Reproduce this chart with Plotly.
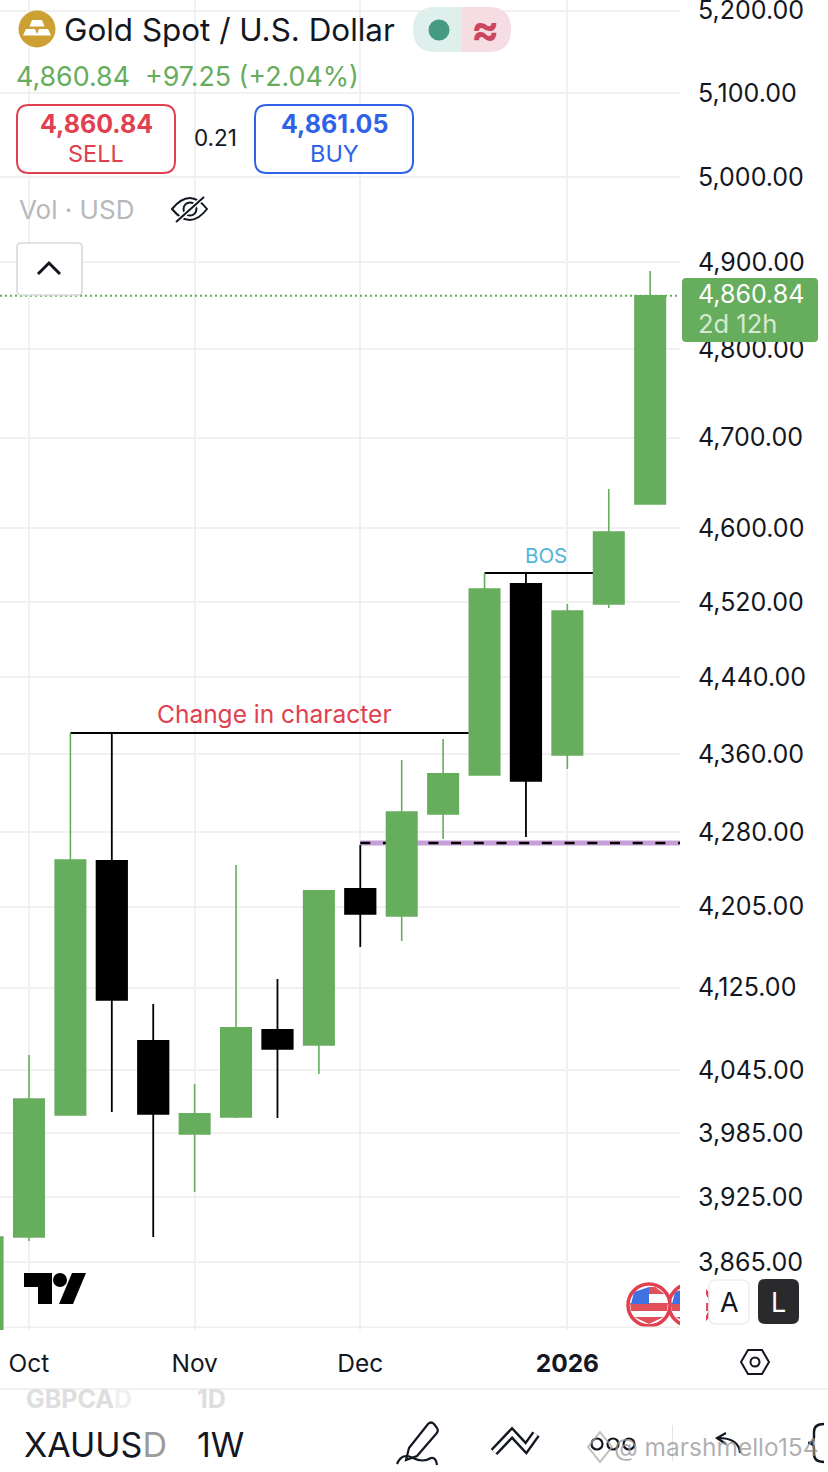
#!/usr/bin/env python3
import math
import plotly.graph_objects as go

# weekly candles, index -1 is the one cut off at the left edge
weeks = [-1, 0, 1, 2, 3, 4, 5, 6, 7, 8, 9, 10, 11, 12, 13, 14, 15]
opens = [3780, 3888.0, 4002.2, 4250.8, 4073.1, 3984.1, 4000.3, 4083.8, 4069.3, 4222.7, 4195.7, 4298.5, 4338.5, 4539.6, 4359.1, 4518.1, 4626.6]
highs = [3888.0, 4059.6, 4381.9, 4381.9, 4109.0, 4031.7, 4246.8, 4133.4, 4221.7, 4267.0, 4353.9, 4375.7, 4551.5, 4551.5, 4518.1, 4643.1, 4889.5]
lows = [3760, 3884.3, 4002.2, 4005.1, 3888.0, 3929.7, 3999.4, 3999.4, 4041.3, 4165.0, 4170.9, 4273.0, 4338.5, 4275.1, 4344.6, 4513.8, 4626.6]
closes = [3888.0, 4017.4, 4251.8, 4112.9, 4003.2, 4003.2, 4085.7, 4065.4, 4220.7, 4197.7, 4300.5, 4339.5, 4534.2, 4332.3, 4510.6, 4595.9, 4860.84]

price_ticks = [5200, 5100, 5000, 4900, 4800, 4700, 4600, 4520, 4440, 4360, 4280, 4205, 4125, 4045, 3985, 3925, 3865]
price_labels = [f"{p:,.2f}" for p in price_ticks]
month_ticks = [0, 4, 8, 13]
month_labels = ["Oct", "Nov", "Dec", "<b>2026</b>"]

last_price = 4860.84
choch_level = 4381.9
bos_level = 4551.5
zone_level = 4269.0

GREEN = "#67AD5E"
RED = "#E0404F"
BLUE = "#2F62E8"
INK = "#131722"
GRID = "#F1F1F2"
FONT = "Inter, Roboto, sans-serif"

fig = go.Figure()

fig.add_trace(go.Candlestick(
    x=weeks, open=opens, high=highs, low=lows, close=closes,
    increasing=dict(line=dict(color=GREEN, width=1.6), fillcolor=GREEN),
    decreasing=dict(line=dict(color="#000000", width=1.8), fillcolor="#000000"),
    whiskerwidth=0, showlegend=False, hoverinfo="skip",
))
# empty trace so the full page pixel axes exist for the app chrome
fig.add_trace(go.Scatter(x=[], y=[], xaxis="x2", yaxis="y2", showlegend=False))

fig.update_layout(
    width=828, height=1472, margin=dict(l=0, r=0, t=0, b=0, pad=0),
    autosize=False,
    paper_bgcolor="white", plot_bgcolor="rgba(0,0,0,0)",
    boxgap=0.265, boxgroupgap=0,
    font=dict(family=FONT, color=INK),
    xaxis=dict(
        domain=[0, 680 / 828], range=[-0.70, 15.72], anchor="y",
        rangeslider=dict(visible=False), tickmode="array",
        tickvals=month_ticks, ticktext=month_labels, showgrid=True, gridcolor=GRID,
        gridwidth=1.5, zeroline=False, showline=False, ticks="",
        tickfont=dict(size=24.5, color=INK), ticklabelstandoff=16,
    ),
    yaxis=dict(
        domain=[142 / 1472, 1], type="log", side="right", anchor="x",
        range=[math.log10(3803.1), math.log10(5214.2)],
        tickmode="array", tickvals=price_ticks, ticktext=price_labels,
        showgrid=True, gridcolor=GRID, gridwidth=1.5, zeroline=False,
        showline=False, ticks="", tickfont=dict(size=25, color=INK),
        ticklabelstandoff=17,
    ),
    xaxis2=dict(domain=[0, 1], range=[0, 828], anchor="y2", visible=False, fixedrange=True),
    yaxis2=dict(domain=[0, 1], range=[1472, 0], anchor="x2", visible=False, fixedrange=True),
)


def level(x0, x1, y, color, width, dash="solid"):
    # line in price coordinates, sits under the candles
    fig.add_shape(type="line", xref="x", yref="y", x0=x0, x1=x1, y0=y, y1=y,
                  line=dict(color=color, width=width, dash=dash), layer="between")


level(-0.7, 15.72, last_price, "#5FAE54", 2, "2px,3px")
level(1, 10.62, choch_level, "#000000", 2)
level(11, 13.62, bos_level, "#000000", 2)
level(8, 15.72, zone_level, "#C79FD8", 5)
level(8, 15.72, zone_level, "#000000", 2.5, "10px,12.7px")


# everything below is app chrome, drawn in page pixels
def path(d, fill="rgba(0,0,0,0)", color=None, width=0, layer="above"):
    fig.add_shape(type="path", xref="x2", yref="y2", path=d, fillcolor=fill, layer=layer,
                  line=dict(color=color or "rgba(0,0,0,0)", width=width))


def rrect(x0, y0, x1, y1, r):
    return (f"M{x0 + r},{y0} L{x1 - r},{y0} Q{x1},{y0} {x1},{y0 + r} L{x1},{y1 - r} Q{x1},{y1} {x1 - r},{y1} "
            f"L{x0 + r},{y1} Q{x0},{y1} {x0},{y1 - r} L{x0},{y0 + r} Q{x0},{y0} {x0 + r},{y0} Z")


def circle(cx, cy, r, fill="rgba(0,0,0,0)", color=None, width=0):
    fig.add_shape(type="circle", xref="x2", yref="y2", x0=cx - r, x1=cx + r, y0=cy - r, y1=cy + r,
                  fillcolor=fill, line=dict(color=color or "rgba(0,0,0,0)", width=width), layer="above")


def rect(x0, y0, x1, y1, fill):
    fig.add_shape(type="rect", xref="x2", yref="y2", x0=x0, x1=x1, y0=y0, y1=y1,
                  fillcolor=fill, line=dict(width=0), layer="above")


def text(x, y, s, size, color=INK, anchor="center", family=FONT):
    fig.add_annotation(xref="x2", yref="y2", x=x, y=y, text=s, showarrow=False, xanchor=anchor,
                       yanchor="middle", font=dict(size=size, color=color, family=family), borderpad=0)


def band(cx, cy, r, y0, y1, xmin=None):
    # horizontal slice of a circle, used for the flag stripes
    pts = []
    for y in (y0, y1):
        pts.append((cx + math.sqrt(max(r * r - (y - cy) ** 2, 0)), y))
    for y in (y1, y0):
        dx = math.sqrt(max(r * r - (y - cy) ** 2, 0))
        pts.append((max(cx - dx, xmin) if xmin is not None else cx - dx, y))
    return "M" + " L".join(f"{a:.1f},{b:.1f}" for a, b in pts) + " Z"


# header
circle(37, 29, 18.5, fill="#CDA033")
for d in ["M32,20 L42,20 L44.5,26.5 L29.5,26.5 Z", "M26,29 L35,29 L37.5,35.5 L23,35.5 Z", "M39,29 L48,29 L51,35.5 L36.5,35.5 Z"]:
    path(d, fill="white")
text(63, 30, "Gold Spot / U.S. Dollar", 31.4, anchor="left")
path("M462,7 L435,7 Q413,7 413,29.5 Q413,52 435,52 L462,52 Z", fill="#DFF0EC")
path("M462,7 L489,7 Q511,7 511,29.5 Q511,52 489,52 L462,52 Z", fill="#F5DDE3")
circle(439, 30, 10.5, fill="#459B80")
text(485, 28, "<b>≈</b>", 42, color="#CC4560")
text(15, 76, "4,860.84  +97.25 (+2.04%)", 26.8, color=GREEN, anchor="left")

path(rrect(17, 105, 175, 173, 12), fill="white", color=RED, width=2)
text(96, 124, "<b>4,860.84</b>", 25, color=RED)
text(96, 153, "SELL", 23.5, color=RED)
text(215, 137, "0.21", 22.5)
path(rrect(255, 105, 413, 173, 12), fill="white", color=BLUE, width=2)
text(334, 124, "<b>4,861.05</b>", 25, color=BLUE)
text(334, 153, "BUY", 23.5, color=BLUE)

text(18, 209, "Vol · USD", 26, color="#B6B8BC", anchor="left")
path("M172,209 Q190,187 207,209 Q190,231 172,209 Z", color=INK, width=2)
circle(190, 209, 6.5, color=INK, width=2)
path("M176,222 L204,197", color="white", width=5)
path("M176,222 L204,197", color=INK, width=2)

path(rrect(17, 243, 82, 295, 4), fill="white", color="#D9D9DB", width=1.6)
path("M38,274 L49,263 L60,274", color=INK, width=3)

# the top tick label would be dropped by the axis because it touches the edge
text(697, 10, price_labels[0], 25, anchor="left")

# last price label
path(rrect(682, 278, 818, 342, 4), fill=GREEN)
text(697, 294, "4,860.84", 25, color="white", anchor="left")
text(697, 323, "2d 12h", 25.5, color="#D6EAD2", anchor="left")

# chart labels
fig.add_annotation(xref="x", yref="y", x=5.92, y=math.log10(4401.7), text="Change in character",
                   showarrow=False, font=dict(size=24.5, color=RED, family=FONT))
fig.add_annotation(xref="x", yref="y", x=12.49, y=math.log10(4569.8), text="BOS",
                   showarrow=False, font=dict(size=20.5, color="#52B5D8", family=FONT))

# TradingView logo
path("M24,1273 L52,1273 L52,1304 L38,1304 L38,1287 L24,1287 Z", fill="#000000")
circle(60, 1280, 7, fill="#000000")
path("M72,1273 L86,1273 L73,1304 L59,1304 Z", fill="#000000")

# flag badges, second one is cut off by the price scale
for cx in (690, 649):
    circle(cx, 1305, 21, fill="white")
    path(band(cx, 1305, 19, 1287, 1294, cx), fill="#E0505A")
    path(band(cx, 1305, 19, 1303, 1311), fill="#E0505A")
    path(band(cx, 1305, 19, 1317, 1324), fill="#E0505A")
    path(f"M{cx - 15},1292 L{cx},1287 L{cx},1304 L{cx - 18},1304 Z", fill="#3F72E0")
    circle(cx, 1305, 21, color=RED, width=3.5)
rect(680, 1278, 706, 1332, "white")
rect(5, 1326.5, 680, 1328, "#EEEEEF")

path(rrect(709, 1280, 749, 1324, 7), fill="white", color="#EEEEEF", width=1.5)
text(729, 1302, "A", 27)
path(rrect(758, 1279, 799, 1324, 7), fill="#2A2A2D")
text(778.5, 1302, "L", 27, color="white")

# settings hexagon next to the time scale
path("M741,1362 L748,1350 L762,1350 L769,1362 L762,1374 L748,1374 Z", color=INK, width=2)
circle(755, 1362, 4.5, color=INK, width=2)

# bottom toolbar, the last letter fades out in the app
rect(0, 1388, 828, 1390, "#F1F1F2")
text(25, 1399, "<b>GBPCA<span style='color:#F0F0F0'>D</span></b>", 25, color="#DEDEDE", anchor="left")
text(196, 1399, "<b>1D</b>", 25, color="#DEDEDE", anchor="left")
text(23, 1444, "XAUUS<span style='color:#9A9A9A'>D</span>", 34, anchor="left")
text(196, 1444, "1W", 34, anchor="left")

path("M409,1448 L428,1424 Q431,1421 434,1424 L437,1428 Q439,1431 436,1434 L417,1456 L406,1460 Z", color=INK, width=2.2)
path("M397,1464 Q402,1452 413,1458 Q423,1463 431,1458 Q436,1457 437,1465", color=INK, width=2.2)
path("M494,1452 L512,1433 L526,1448 L536,1434", color=INK, width=9)
path("M494,1452 L512,1433 L526,1448 L536,1434", color="white", width=4)
for cx in (597, 613, 629):
    circle(cx, 1444, 5.5, color=INK, width=2.2)
rect(672, 1425, 673, 1461, "#E4E4E6")
path("M740,1453 Q739,1438 718,1438 M726,1433 L717,1438 L726,1444", color=INK, width=2.2)
path("M824,1424 Q814,1424 814,1432 L814,1438 Q814,1443 808,1443 Q814,1443 814,1448 L814,1454 Q814,1462 824,1462", color=INK, width=2.4)

# watermark
path("M600,1432 L612,1447 L600,1462 L588,1447 Z", color="rgba(170,170,170,0.75)", width=2)
text(613, 1447, "@ marshmello154", 24.5, color="rgba(150,150,150,0.75)", anchor="left")

fig.write_html("out.html", config={"displayModeBar": False}, post_script="document.body.style.margin='0';")
